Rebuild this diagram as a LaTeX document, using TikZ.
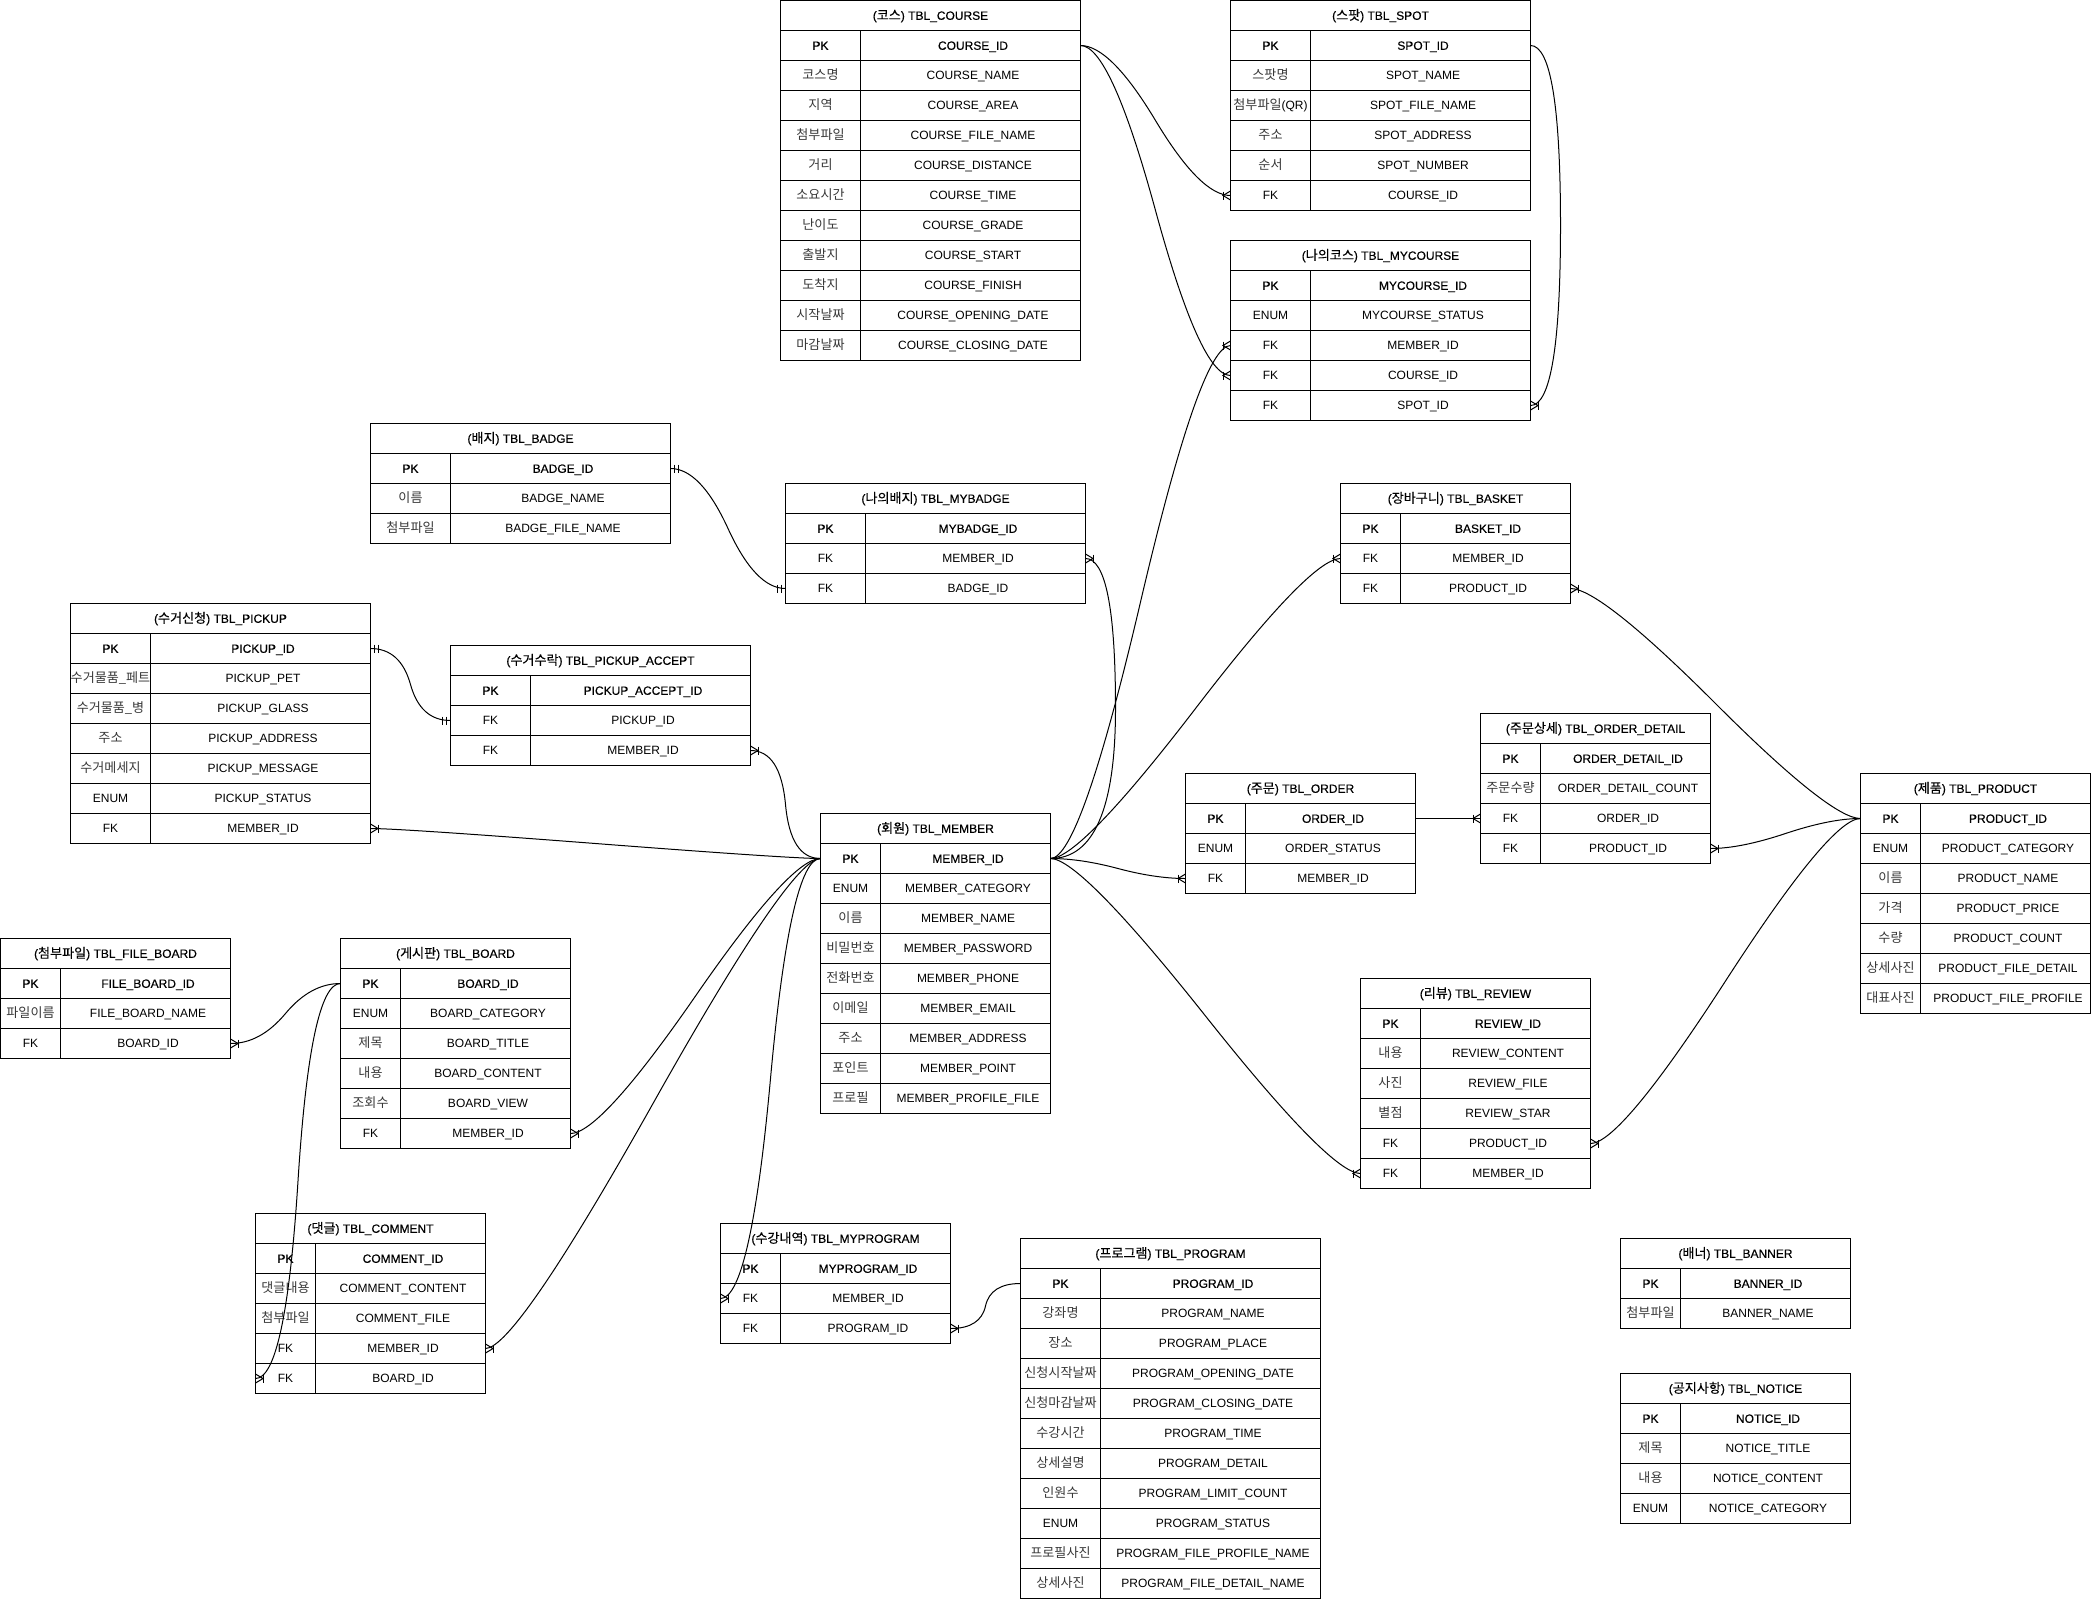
\documentclass[tikz,border=0pt]{standalone}
\usepackage{fontspec}
\setmainfont{Liberation Sans}
\newfontfamily\semifont[FakeBold=0.35]{Liberation Sans}
\newfontfamily\kofont[Scale=1.09]{Noto Sans CJK KR}
\newfontfamily\kosemi[Scale=1.09,FakeBold=0.2]{Noto Sans CJK KR}
\usetikzlibrary{calc}
\catcode`\_=12
\newcommand{\K}[1]{{\color{black!78}\kofont #1}}
\newcommand{\T}[1]{{\kosemi #1}}
\tikzset{
  ercell/.style={draw=black,line width=1pt,rectangle,inner sep=0pt,outer sep=0pt,minimum height=30pt,anchor=north west,text height=10.3pt,text depth=1.7pt,font=\fontsize{12}{14}\selectfont},
  erline/.style={draw=black,line width=1pt}
}
% name, x0, xsplit, x1, y0, title, rows
\newcommand{\ertable}[7]{%
  \pgfmathsetmacro\wt{#4-#2}%
  \pgfmathsetmacro\wl{#3-#2}%
  \pgfmathsetmacro\wr{#4-#3}%
  \node[ercell,minimum width=\wt pt] (#1) at (#2,#5) {\semifont #6};
  \foreach \a/\b [count=\i] in {#7} {
    \pgfmathsetmacro\yy{#5+30*\i}
    \node[ercell,minimum width=\wl pt] (#1-l\i) at (#2,\yy) {\ifnum\i=1 \semifont\fi \a};
    \node[ercell,minimum width=\wr pt] (#1-r\i) at (#3,\yy) {\kern5pt\ifnum\i=1 \semifont\fi \b};
  }
}
% from, jetty dir, to, jetty dir
\newcommand{\erc}[4]{%
  \draw[erline] let \p1=(#1), \p2=(#3), \n1={\x1+(#2)*30pt}, \n2={\x2+(#4)*30pt}, \n3={(\n1+\n2)/2}, \n4={(\y1+\y2)/2} in
  (\p1) .. controls ({\x1+(#2)*20pt},\y1) and ({\n3+2/3*(\n1-\n3)},{\n4+2/3*(\y1-\n4)}) .. (\n3,\n4)
  .. controls ({\n3+2/3*(\n2-\n3)},{\n4+2/3*(\y2-\n4)}) and ({\x2+(#4)*20pt},\y2) .. (\p2);%
}
\newcommand{\erfoot}[2]{%
  \draw[erline] ([shift={({(#2)*7.5pt},4pt)}]#1) -- ([shift={({(#2)*7.5pt},-4pt)}]#1);
  \draw[erline] ([yshift=4.5pt]#1) -- ([xshift={(#2)*7.5pt}]#1) -- ([yshift=-4.5pt]#1);%
}
\newcommand{\erone}[2]{%
  \draw[erline] ([shift={({(#2)*4pt},4pt)}]#1) -- ([shift={({(#2)*4pt},-4pt)}]#1);
  \draw[erline] ([shift={({(#2)*8pt},4pt)}]#1) -- ([shift={({(#2)*8pt},-4pt)}]#1);%
}
\begin{document}
\begin{tikzpicture}[x=1pt,y=-1pt]
\useasboundingbox (0,0) rectangle (2091,1599);
\ertable{course}{780.5}{860.5}{1080.5}{0.5}{(\T{코스}) TBL_COURSE}{PK/COURSE_ID,\K{코스명}/COURSE_NAME,\K{지역}/COURSE_AREA,\K{첨부파일}/COURSE_FILE_NAME,\K{거리}/COURSE_DISTANCE,\K{소요시간}/COURSE_TIME,\K{난이도}/COURSE_GRADE,\K{출발지}/COURSE_START,\K{도착지}/COURSE_FINISH,\K{시작날짜}/COURSE_OPENING_DATE,\K{마감날짜}/COURSE_CLOSING_DATE}
\ertable{spot}{1230.5}{1310.5}{1530.5}{0.5}{(\T{스팟}) TBL_SPOT}{PK/SPOT_ID,\K{스팟명}/SPOT_NAME,\K{첨부파일}(QR)/SPOT_FILE_NAME,\K{주소}/SPOT_ADDRESS,\K{순서}/SPOT_NUMBER,FK/COURSE_ID}
\ertable{mycourse}{1230.5}{1310.5}{1530.5}{240.5}{(\T{나의코스}) TBL_MYCOURSE}{PK/MYCOURSE_ID,ENUM/MYCOURSE_STATUS,FK/MEMBER_ID,FK/COURSE_ID,FK/SPOT_ID}
\ertable{badge}{370.5}{450.5}{670.5}{423.5}{(\T{배지}) TBL_BADGE}{PK/BADGE_ID,\K{이름}/BADGE_NAME,\K{첨부파일}/BADGE_FILE_NAME}
\ertable{mybadge}{785.5}{865.5}{1085.5}{483.5}{(\T{나의배지}) TBL_MYBADGE}{PK/MYBADGE_ID,FK/MEMBER_ID,FK/BADGE_ID}
\ertable{basket}{1340.5}{1400.5}{1570.5}{483.5}{(\T{장바구니}) TBL_BASKET}{PK/BASKET_ID,FK/MEMBER_ID,FK/PRODUCT_ID}
\ertable{pickup}{70.5}{150.5}{370.5}{603.5}{(\T{수거신청}) TBL_PICKUP}{PK/PICKUP_ID,\K{수거물품_페트}/PICKUP_PET,\K{수거물품_병}/PICKUP_GLASS,\K{주소}/PICKUP_ADDRESS,\K{수거메세지}/PICKUP_MESSAGE,ENUM/PICKUP_STATUS,FK/MEMBER_ID}
\ertable{accept}{450.5}{530.5}{750.5}{645.5}{(\T{수거수락}) TBL_PICKUP_ACCEPT}{PK/PICKUP_ACCEPT_ID,FK/PICKUP_ID,FK/MEMBER_ID}
\ertable{member}{820.5}{880.5}{1050.5}{813.5}{(\T{회원}) TBL_MEMBER}{PK/MEMBER_ID,ENUM/MEMBER_CATEGORY,\K{이름}/MEMBER_NAME,\K{비밀번호}/MEMBER_PASSWORD,\K{전화번호}/MEMBER_PHONE,\K{이메일}/MEMBER_EMAIL,\K{주소}/MEMBER_ADDRESS,\K{포인트}/MEMBER_POINT,\K{프로필}/MEMBER_PROFILE_FILE}
\ertable{order}{1185.5}{1245.5}{1415.5}{773.5}{(\T{주문}) TBL_ORDER}{PK/ORDER_ID,ENUM/ORDER_STATUS,FK/MEMBER_ID}
\ertable{detail}{1480.5}{1540.5}{1710.5}{713.5}{(\T{주문상세}) TBL_ORDER_DETAIL}{PK/ORDER_DETAIL_ID,\K{주문수량}/ORDER_DETAIL_COUNT,FK/ORDER_ID,FK/PRODUCT_ID}
\ertable{product}{1860.5}{1920.5}{2090.5}{773.5}{(\T{제품}) TBL_PRODUCT}{PK/PRODUCT_ID,ENUM/PRODUCT_CATEGORY,\K{이름}/PRODUCT_NAME,\K{가격}/PRODUCT_PRICE,\K{수량}/PRODUCT_COUNT,\K{상세사진}/PRODUCT_FILE_DETAIL,\K{대표사진}/PRODUCT_FILE_PROFILE}
\ertable{review}{1360.5}{1420.5}{1590.5}{978.5}{(\T{리뷰}) TBL_REVIEW}{PK/REVIEW_ID,\K{내용}/REVIEW_CONTENT,\K{사진}/REVIEW_FILE,\K{별점}/REVIEW_STAR,FK/PRODUCT_ID,FK/MEMBER_ID}
\ertable{fileboard}{0.5}{60.5}{230.5}{938.5}{(\T{첨부파일}) TBL_FILE_BOARD}{PK/FILE_BOARD_ID,\K{파일이름}/FILE_BOARD_NAME,FK/BOARD_ID}
\ertable{board}{340.5}{400.5}{570.5}{938.5}{(\T{게시판}) TBL_BOARD}{PK/BOARD_ID,ENUM/BOARD_CATEGORY,\K{제목}/BOARD_TITLE,\K{내용}/BOARD_CONTENT,\K{조회수}/BOARD_VIEW,FK/MEMBER_ID}
\ertable{comment}{255.5}{315.5}{485.5}{1213.5}{(\T{댓글}) TBL_COMMENT}{PK/COMMENT_ID,\K{댓글내용}/COMMENT_CONTENT,\K{첨부파일}/COMMENT_FILE,FK/MEMBER_ID,FK/BOARD_ID}
\ertable{myprogram}{720.5}{780.5}{950.5}{1223.5}{(\T{수강내역}) TBL_MYPROGRAM}{PK/MYPROGRAM_ID,FK/MEMBER_ID,FK/PROGRAM_ID}
\ertable{program}{1020.5}{1100.5}{1320.5}{1238.5}{(\T{프로그램}) TBL_PROGRAM}{PK/PROGRAM_ID,\K{강좌명}/PROGRAM_NAME,\K{장소}/PROGRAM_PLACE,\K{신청시작날짜}/PROGRAM_OPENING_DATE,\K{신청마감날짜}/PROGRAM_CLOSING_DATE,\K{수강시간}/PROGRAM_TIME,\K{상세설명}/PROGRAM_DETAIL,\K{인원수}/PROGRAM_LIMIT_COUNT,ENUM/PROGRAM_STATUS,\K{프로필사진}/PROGRAM_FILE_PROFILE_NAME,\K{상세사진}/PROGRAM_FILE_DETAIL_NAME}
\ertable{banner}{1620.5}{1680.5}{1850.5}{1238.5}{(\T{배너}) TBL_BANNER}{PK/BANNER_ID,\K{첨부파일}/BANNER_NAME}
\ertable{notice}{1620.5}{1680.5}{1850.5}{1373.5}{(\T{공지사항}) TBL_NOTICE}{PK/NOTICE_ID,\K{제목}/NOTICE_TITLE,\K{내용}/NOTICE_CONTENT,ENUM/NOTICE_CATEGORY}
% connectors
\erc{course-r1.east}{1}{spot-l6.west}{-1}\erfoot{spot-l6.west}{-1}
\erc{course-r1.east}{1}{mycourse-l4.west}{-1}\erfoot{mycourse-l4.west}{-1}
\erc{spot-r1.east}{1}{mycourse-r5.east}{1}\erfoot{mycourse-r5.east}{1}
\erc{member-r1.east}{1}{mycourse-l3.west}{-1}\erfoot{mycourse-l3.west}{-1}
\erc{member-r1.east}{2.1667}{mybadge-r2.east}{1}\erfoot{mybadge-r2.east}{1}
\erc{badge-r1.east}{1}{mybadge-l3.west}{-1}\erone{badge-r1.east}{1}\erone{mybadge-l3.west}{-1}
\erc{member-r1.east}{1}{basket-l2.west}{-1}\erfoot{basket-l2.west}{-1}
\erc{product-l1.west}{-1}{basket-r3.east}{1}\erfoot{basket-r3.east}{1}
\erc{order-r1.east}{1}{detail-l3.west}{-1}\erfoot{detail-l3.west}{-1}
\erc{product-l1.west}{-1}{detail-r4.east}{1}\erfoot{detail-r4.east}{1}
\erc{member-r1.east}{1}{order-l3.west}{-1}\erfoot{order-l3.west}{-1}
\erc{member-r1.east}{1}{review-l6.west}{-1}\erfoot{review-l6.west}{-1}
\erc{product-l1.west}{-1}{review-r5.east}{1}\erfoot{review-r5.east}{1}
\erc{member-l1.west}{-1}{pickup-r7.east}{1}\erfoot{pickup-r7.east}{1}
\erc{member-l1.west}{-1}{accept-r3.east}{1}\erfoot{accept-r3.east}{1}
\erc{pickup-r1.east}{1}{accept-l2.west}{-1}\erone{pickup-r1.east}{1}\erone{accept-l2.west}{-1}
\erc{member-l1.west}{-1}{board-r6.east}{1}\erfoot{board-r6.east}{1}
\erc{member-l1.west}{-1}{comment-r4.east}{1}\erfoot{comment-r4.east}{1}
\erc{member-l1.west}{-1}{myprogram-l2.west}{1}\erfoot{myprogram-l2.west}{1}
\erc{board-l1.west}{-1}{comment-l5.west}{1}\erfoot{comment-l5.west}{1}
\erc{board-l1.west}{-1}{fileboard-r3.east}{1}\erfoot{fileboard-r3.east}{1}
\erc{program-l1.west}{-1}{myprogram-r3.east}{1}\erfoot{myprogram-r3.east}{1}
\end{tikzpicture}
\end{document}
